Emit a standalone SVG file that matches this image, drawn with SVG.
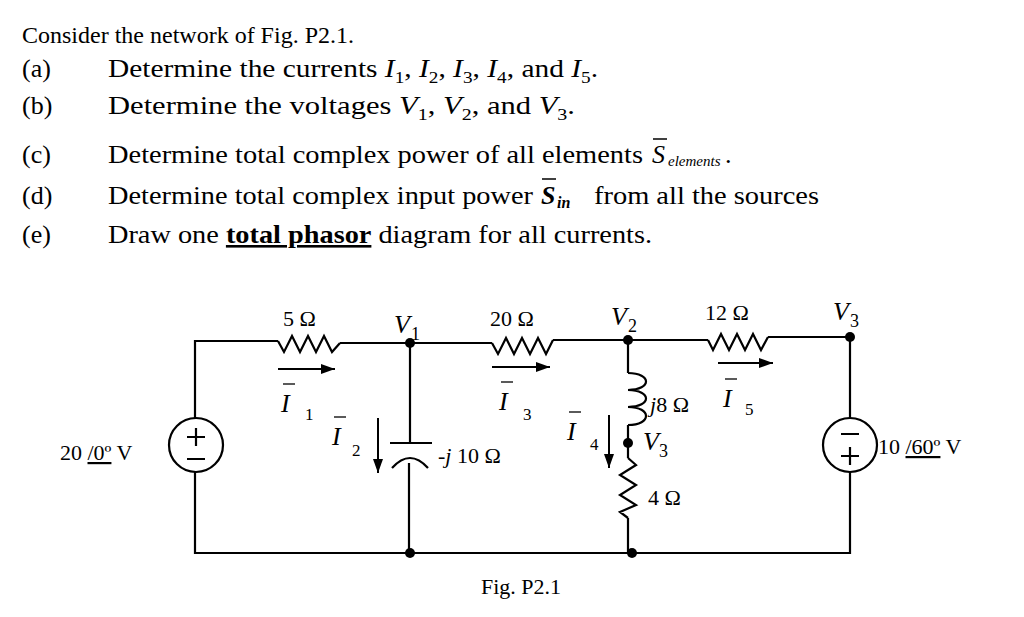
<svg xmlns="http://www.w3.org/2000/svg" width="1024" height="617" viewBox="0 0 1024 617">
<style>
text{font-family:"Liberation Serif","Times New Roman",serif;fill:#000}
.t{font-size:26px}
.c{font-size:22px}
.L{font-size:26px}
.w{fill:none;stroke:#000;stroke-width:2.2}
.dot{fill:#000}
.i{font-style:italic}
</style>
<defs>
<marker id="a" viewBox="0 0 10 10" refX="10" refY="5" markerWidth="14" markerHeight="10" markerUnits="userSpaceOnUse" orient="auto" preserveAspectRatio="none"><path d="M0,0 L10,5 L0,10 z" fill="#000"/></marker>
</defs>
<rect width="1024" height="617" fill="#fff"/>
<g id="problem" class="t">
<text x="22" y="43" font-size="24">Consider the network of Fig. P2.1.</text>
<text x="22" y="77">(a)</text>
<text x="108" y="77" textLength="490" lengthAdjust="spacingAndGlyphs">Determine the currents <tspan class="i">I</tspan><tspan font-size="17" dy="6">1</tspan><tspan dy="-6">, </tspan><tspan class="i">I</tspan><tspan font-size="17" dy="6">2</tspan><tspan dy="-6">, </tspan><tspan class="i">I</tspan><tspan font-size="17" dy="6">3</tspan><tspan dy="-6">, </tspan><tspan class="i">I</tspan><tspan font-size="17" dy="6">4</tspan><tspan dy="-6">, and </tspan><tspan class="i">I</tspan><tspan font-size="17" dy="6">5</tspan><tspan dy="-6">.</tspan></text>
<text x="22" y="114">(b)</text>
<text x="108" y="114" textLength="467" lengthAdjust="spacingAndGlyphs">Determine the voltages <tspan class="i">V</tspan><tspan font-size="17" dy="6">1</tspan><tspan dy="-6">, </tspan><tspan class="i">V</tspan><tspan font-size="17" dy="6">2</tspan><tspan dy="-6">, and </tspan><tspan class="i">V</tspan><tspan font-size="17" dy="6">3</tspan><tspan dy="-6">.</tspan></text>
<text x="22" y="163">(c)</text>
<text x="108" y="163" textLength="535" lengthAdjust="spacingAndGlyphs">Determine total complex power of all elements</text>
<text x="652" y="163" class="i">S</text><line x1="653" y1="139" x2="667" y2="139" stroke="#000" stroke-width="1.5"/>
<text x="668" y="166" class="i" font-size="15">elements</text><text x="725" y="163">.</text>
<text x="22" y="204">(d)</text>
<text x="108" y="204" textLength="425" lengthAdjust="spacingAndGlyphs">Determine total complex input power</text>
<text x="541" y="204" class="i" font-weight="bold">S</text><line x1="542" y1="179" x2="556" y2="179" stroke="#000" stroke-width="1.5"/>
<text x="557" y="208" class="i" font-weight="bold" font-size="16">in</text>
<text x="594" y="204" textLength="225" lengthAdjust="spacingAndGlyphs">from all the sources</text>
<text x="22" y="243">(e)</text>
<text x="108" y="243" textLength="544" lengthAdjust="spacingAndGlyphs">Draw one <tspan font-weight="bold" text-decoration="underline">total phasor</tspan> diagram for all currents.</text>
</g>
<g id="connectors" class="w">
<path d="M278,341 H195 V418 M195,472 V553 H850 V472 M850,418 V337 H768 M708,340 H553 M492,343 H340"/>
<path d="M410,343 V443 M409,463 V553"/>
<path d="M628,340 V373 M628,425 V458 M628,518 V553"/>
</g>
<g id="R5"><path class="w" d="M278,341 L284,352 L292,336 L300,352 L308,336 L316,352 L324,336 L332,352 L340,343"/><text x="283" y="326" class="c">5 Ω</text></g>
<g id="R20"><path class="w" d="M492,343 L498,354 L506,338 L514,354 L522,338 L530,354 L538,338 L546,354 L553,340"/><text x="490" y="326" class="c">20 Ω</text></g>
<g id="R12"><path class="w" d="M708,340 L713,350 L721,334 L729,350 L737,334 L745,350 L753,334 L761,350 L768,337"/><text x="705" y="320" class="c">12 Ω</text></g>
<g id="C"><line class="w" x1="390" y1="443" x2="432" y2="443"/><path class="w" d="M392,468 Q410,448 428,468"/><text x="438" y="463" class="c"><tspan class="i">-j</tspan> 10 Ω</text></g>
<g id="L"><path class="w" d="M628,373 C652,373 652,390 628,390 C652,390 652,407 628,407 C652,407 652,425 628,425"/><text x="650" y="412" class="c"><tspan class="i">j</tspan>8 Ω</text></g>
<g id="R4"><path class="w" d="M628,458 L636,465 L620,475 L636,485 L620,495 L636,505 L620,512 L628,518"/><text x="648" y="505" class="c">4 Ω</text></g>
<g id="nodes">
<circle class="dot" cx="410" cy="343" r="5"/><circle class="dot" cx="628" cy="340" r="5"/><circle class="dot" cx="850" cy="337" r="5"/>
<circle class="dot" cx="628" cy="443" r="5"/><circle class="dot" cx="410" cy="553" r="5"/><circle class="dot" cx="632" cy="553" r="5"/>
<text x="394" y="333" class="L i">V</text><text x="411" y="340" font-size="18">1</text>
<text x="611" y="325" class="L i">V</text><text x="628" y="332" font-size="18">2</text>
<text x="833" y="320" class="L i">V</text><text x="850" y="327" font-size="18">3</text>
<text x="643" y="450" class="L i">V</text><text x="659" y="457" font-size="18">3</text>
</g>
<g id="src1"><circle class="w" cx="196" cy="445" r="27"/><path class="w" d="M187,437 H205 M196,428 V446 M187,459 H205"/><text x="60" y="460" class="c">20 <tspan text-decoration="underline">/0º</tspan> V</text></g>
<g id="src2"><circle class="w" cx="850" cy="445" r="27"/><path class="w" d="M841,434 H859 M841,456 H859 M850,447 V465"/><text x="878" y="454" class="c">10 <tspan text-decoration="underline">/60º</tspan> V</text></g>
<g id="currents" fill="none" stroke="#000" stroke-width="2">
<line x1="278" y1="369" x2="335" y2="369" marker-end="url(#a)"/>
<line x1="492" y1="367" x2="550" y2="367" marker-end="url(#a)"/>
<line x1="718" y1="363" x2="773" y2="363" marker-end="url(#a)"/>
<line x1="378" y1="418" x2="378" y2="473" marker-end="url(#a)"/>
<line x1="609" y1="415" x2="609" y2="468" marker-end="url(#a)"/>
</g>
<g id="currentlabels" stroke="#000" stroke-width="1.3">
<text x="281" y="412" class="L i" stroke="none">I</text><line x1="283" y1="384" x2="295" y2="384"/><text x="305" y="420" font-size="17" stroke="none">1</text>
<text x="332" y="445" class="L i" stroke="none">I</text><line x1="334" y1="417" x2="346" y2="417"/><text x="352" y="456" font-size="17" stroke="none">2</text>
<text x="499" y="410" class="L i" stroke="none">I</text><line x1="501" y1="382" x2="513" y2="382"/><text x="523" y="420" font-size="17" stroke="none">3</text>
<text x="567" y="440" class="L i" stroke="none">I</text><line x1="569" y1="412" x2="581" y2="412"/><text x="590" y="450" font-size="17" stroke="none">4</text>
<text x="723" y="407" class="L i" stroke="none">I</text><line x1="725" y1="379" x2="737" y2="379"/><text x="745" y="415" font-size="17" stroke="none">5</text>
</g>
<text x="481" y="594" class="c">Fig. P2.1</text>
</svg>
